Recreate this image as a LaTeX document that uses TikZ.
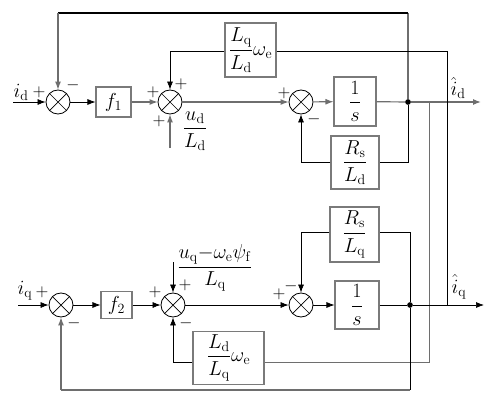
\documentclass[tikz,border=0pt]{standalone}
\usepackage{amsmath}
\usepackage{tikz}
\usetikzlibrary{arrows.meta, positioning, calc}
\definecolor{wiregray}{HTML}{6E6E6E}
\definecolor{boxgray}{HTML}{7A7A7A}

\begin{document}
\begin{tikzpicture}[x=0.3mm, y=-0.3mm,
        blk/.style={draw=boxgray, line width=0.9pt, fill=white, inner sep=1pt, font=\LARGE},
        sum/.style={draw, circle, line width=0.7pt, minimum size=7.2mm, inner sep=0pt,
            path picture={\draw[line width=0.6pt] (path picture bounding box.north west) -- (path picture bounding box.south east)
                (path picture bounding box.north east) -- (path picture bounding box.south west);}},
        sign/.style={inner sep=0pt, font=\Large},
        lbl/.style={inner sep=0pt, font=\LARGE},
        wire/.style={draw, line width=0.6pt},
        gwire/.style={draw=wiregray, line width=1pt},
        bwire/.style={draw, line width=1.4pt},
        arrow/.style={-{Latex[length=2.4mm, width=1.8mm]}},
        dot/.style={circle, fill, inner sep=0pt, minimum size=1.7mm}
    ]
        \useasboundingbox (0,0) rectangle (491,409);

        % d axis
        \node (sumd1) [sum] at (58,102) {};
        \node (fd) [blk, minimum width=10.5mm, minimum height=9mm] at (113.5,102) {$f_{1}$};
        \node (sumd2) [sum] at (170,102) {};
        \node (sumd3) [sum] at (301,102) {};
        \node (intd) [blk, minimum width=12.6mm, minimum height=14.7mm] at (355,101.5) {$\dfrac{1}{s}$};
        \node (rsd) [blk, minimum width=14.4mm, minimum height=15.9mm] at (355,162.5) {$\dfrac{R_{\mathrm{s}}}{L_{\mathrm{d}}}$};
        \node (cpld) [blk, minimum width=15.3mm, minimum height=16.2mm] at (250.5,50) {$\dfrac{L_{\mathrm{q}}}{L_{\mathrm{d}}}\omega_{\mathrm{e}}$};
        \node (dotd) [dot] at (408,102) {};
        \coordinate (ind) at (13,102);
        \coordinate (outd) at (481,102);
        \coordinate (ud) at (170,148);

        % q axis
        \node (sumq1) [sum] at (61,305) {};
        \node (fq) [blk, minimum width=9.3mm, minimum height=8.1mm] at (116.5,305) {$f_{2}$};
        \node (sumq2) [sum] at (173,305) {};
        \node (sumq3) [sum] at (301,305) {};
        \node (intq) [blk, minimum width=13.2mm, minimum height=14.4mm] at (357,305) {$\dfrac{1}{s}$};
        \node (rsq) [blk, minimum width=14.7mm, minimum height=16.5mm] at (354.5,234.5) {$\dfrac{R_{\mathrm{s}}}{L_{\mathrm{q}}}$};
        \node (cplq) [blk, minimum width=21.3mm, minimum height=15.9mm] at (228.5,358) {$\dfrac{L_{\mathrm{d}}}{L_{\mathrm{q}}}\omega_{\mathrm{e}}$};
        \node (dotq) [dot] at (410,305) {};
        \coordinate (inq) at (18,305);
        \coordinate (outq) at (484,305);
        \coordinate (uq) at (173,262);

        % labels
        \node (lid) [lbl] at (21,92) {$i_{\mathrm{d}}$};
        \node (liq) [lbl] at (25,291) {$i_{\mathrm{q}}$};
        \node (lhd) [lbl] at (458,88) {$\hat{i}_{\mathrm{d}}$};
        \node (lhq) [lbl] at (459,287) {$\hat{i}_{\mathrm{q}}$};
        \node (lud) [lbl] at (195,131) {$\dfrac{u_{\mathrm{d}}}{L_{\mathrm{d}}}$};
        \node (luq) [lbl] at (215,268) {$\dfrac{u_{\mathrm{q}}{-}\omega_{\mathrm{e}}\psi_{\mathrm{f}}}{L_{\mathrm{q}}}$};

        % signs
        \node (pd1) [sign] at (39,92) {$+$};
        \node (md1) [sign] at (73,85) {$-$};
        \node (pd2a) [sign] at (153,92) {$+$};
        \node (pd2b) [sign] at (181,84) {$+$};
        \node (pd2c) [sign] at (159,121) {$+$};
        \node (pd3) [sign] at (284,93) {$+$};
        \node (md3) [sign] at (314,119) {$-$};
        \node (pq1) [sign] at (42,292) {$+$};
        \node (mq1) [sign] at (74,323) {$-$};
        \node (pq2a) [sign] at (155,292) {$+$};
        \node (pq2b) [sign] at (185,285) {$+$};
        \node (mq2) [sign] at (186,323) {$-$};
        \node (pq3) [sign] at (279,294) {$+$};
        \node (mq3) [sign] at (291,286) {$-$};

        % d axis wires
        \draw [wire, arrow] (ind) -- (sumd1);
        \draw [wire, arrow] (sumd1) -- (fd);
        \draw [gwire, arrow] (fd) -- (sumd2);
        \draw [gwire, arrow] (sumd2) -- (sumd3);
        \draw [gwire, arrow] (sumd3) -- (intd);
        \draw [gwire] (intd) -- (dotd);
        \draw [gwire, arrow] (dotd) -- (outd);
        \draw [gwire, arrow] (ud) -- (sumd2);
        \draw [gwire] (dotd) -- (408,13);
        \draw [bwire] (408,13) -- (58,13);
        \draw [gwire, arrow] (58,13) -- (sumd1);
        \draw [wire] (dotd) |- (rsd);
        \draw [wire, arrow] (rsd) -| (sumd3);
        \draw [wire, arrow] (cpld.west |- 170,51) -| (sumd2);
        \draw [wire] (cpld.east |- 447,51) -| (447,305);
        \draw [gwire, line width=0.8pt] (429,102) |- (cplq.east |- 429,362);

        % q axis wires
        \draw [wire, arrow] (inq) -- (sumq1);
        \draw [wire, arrow] (sumq1) -- (fq);
        \draw [wire, arrow] (fq) -- (sumq2);
        \draw [wire, arrow] (sumq2) -- (sumq3);
        \draw [wire, arrow] (sumq3) -- (intq);
        \draw [wire] (intq) -- (dotq);
        \draw [wire, arrow] (dotq) -- (outq);
        \draw [wire, arrow] (uq) -- (sumq2);
        \draw [wire] (dotq) |- (rsq.east |- 410,232);
        \draw [wire, arrow] (rsq.west |- 301,232) -| (sumq3);
        \draw [wire, arrow] (cplq.west |- 173,362) -| (sumq2);
        \draw [wire] (dotq) -- (410,390);
        \draw [gwire] (410,390) -- (61,390);
        \draw [gwire, arrow] (61,390) -- (sumq1);
    \end{tikzpicture}
\end{document}
